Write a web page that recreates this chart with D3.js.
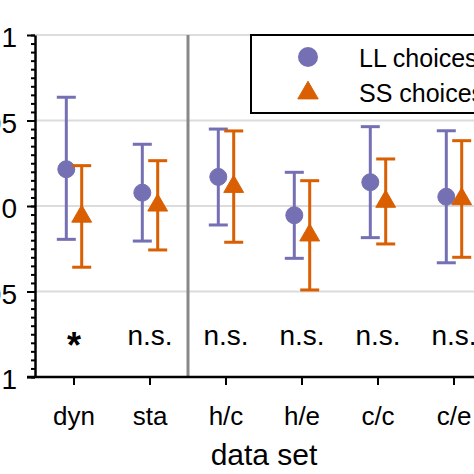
<!DOCTYPE html>
<html>
<head>
<meta charset="utf-8">
<script src="https://cdn.jsdelivr.net/npm/d3@7"></script>
<style>
    body { margin: 0; background: #fff; }
    svg { display: block; font-family: "Liberation Sans", Arial, sans-serif; }
</style>
</head>
<body>
<div id="chart"></div>
<script>
// data sets on the x axis
var dataSets = ["dyn", "sta", "h/c", "h/e", "c/c", "c/e"];

// LL choices: mean with lower / upper bound
var llMean = [0.0215, 0.0078, 0.0170, -0.0054, 0.0139, 0.0054];
var llLow  = [-0.0195, -0.0205, -0.0111, -0.0306, -0.0185, -0.0332];
var llHigh = [0.0636, 0.0361, 0.0450, 0.0197, 0.0464, 0.0440];

// SS choices: mean with lower / upper bound
var ssMean = [-0.0061, 0.0004, 0.0113, -0.0171, 0.0026, 0.0041];
var ssLow  = [-0.0358, -0.0257, -0.0212, -0.0491, -0.0222, -0.0300];
var ssHigh = [0.0236, 0.0265, 0.0439, 0.0148, 0.0275, 0.0382];

// significance labels under each data set
var sigLabels = ["*", "n.s.", "n.s.", "n.s.", "n.s.", "n.s."];

// y tick values and their labels
var yTicks = [-0.1, -0.05, 0, 0.05, 0.1];
var yTickLabels = ["-0.1", "-0.05", "0", "0.05", "0.1"];

var width = 474, height = 474;
var margin = {top: 35, left: 35, bottom: 97};

var purple = "#7570b3", orange = "#d95f02";

var svg = d3.select("#chart")
    .append("svg")
        .attr("width", width)
        .attr("height", height);

// scales
var x = d3.scaleBand()
    .domain(dataSets)
    .range([36, 36 + 76 * dataSets.length]);

var y = d3.scaleLinear()
    .domain([-0.1, 0.1])
    .range([height - margin.bottom, margin.top]);

// gridlines
svg.append("g")
    .selectAll("line")
    .data(yTicks.slice(1))
    .enter()
    .append("line")
        .attr("x1", margin.left)
        .attr("x2", width)
        .attr("y1", d => y(d))
        .attr("y2", d => y(d))
        .attr("stroke", "#dcdcdc")
        .attr("stroke-width", 2);

// separator between dynamic/static and the other data sets
var sepX = (x("sta") + x.bandwidth() / 2 + x("h/c") + x.bandwidth() / 2) / 2;
svg.append("line")
    .attr("x1", sepX)
    .attr("x2", sepX)
    .attr("y1", y(0.1))
    .attr("y2", y(-0.1))
    .attr("stroke", "#888")
    .attr("stroke-width", 3);

// minor y ticks every 0.005
var minor = d3.range(-0.1, 0.1001, 0.005);
svg.append("g")
    .attr("transform", `translate(${margin.left},0)`)
    .call(d3.axisLeft(y).tickValues(minor).tickSize(4).tickFormat(""))
    .call(g => g.select(".domain").remove())
    .call(g => g.selectAll("line").attr("stroke-width", 2));

// major y axis
svg.append("g")
    .attr("transform", `translate(${margin.left},0)`)
    .call(d3.axisLeft(y)
        .tickValues(yTicks)
        .tickSize(8)
        .tickSizeOuter(0)
        .tickPadding(10)
        .tickFormat((d, i) => yTickLabels[i]))
    .call(g => g.select(".domain").attr("stroke-width", 2.5))
    .call(g => g.selectAll("line").attr("stroke-width", 2))
    .call(g => g.selectAll("text")
        .attr("font-size", 28)
        .attr("font-family", "Liberation Sans, Arial, sans-serif")
        .attr("fill", "#000")
        .attr("dy", "0.42em"));

// x axis
svg.append("g")
    .attr("transform", `translate(0,${y(-0.1)})`)
    .call(d3.axisBottom(x).tickSize(8).tickSizeOuter(0).tickPadding(22))
    .call(g => g.select(".domain").attr("stroke-width", 2.5).attr("d", `M${margin.left - 8},0H${width + 20}`))
    .call(g => g.selectAll("line").attr("stroke-width", 2))
    .call(g => g.selectAll("text")
        .attr("font-size", 26)
        .attr("font-family", "Liberation Sans, Arial, sans-serif")
        .attr("fill", "#000"));

// x axis title
svg.append("text")
    .attr("x", 264)
    .attr("y", 465)
    .attr("text-anchor", "middle")
    .attr("font-size", 30)
    .text("data set");

// function to draw one series of error bars and markers
function drawSeries(mean, low, high, color, offset, symbol) {
    var cx = (d, i) => x(dataSets[i]) + x.bandwidth() / 2 + offset;
    var g = svg.append("g");
    var rows = mean.map((m, i) => ({m: m, lo: low[i], hi: high[i], i: i}));

    // vertical bar
    g.selectAll(".bar")
        .data(rows)
        .enter()
        .append("line")
            .attr("x1", d => cx(d, d.i))
            .attr("x2", d => cx(d, d.i))
            .attr("y1", d => y(d.lo))
            .attr("y2", d => y(d.hi))
            .attr("stroke", color)
            .attr("stroke-width", 3);

    // caps
    ["lo", "hi"].forEach(function(k) {
        g.selectAll(".cap" + k)
            .data(rows)
            .enter()
            .append("line")
                .attr("x1", d => cx(d, d.i) - 9.5)
                .attr("x2", d => cx(d, d.i) + 9.5)
                .attr("y1", d => y(d[k]))
                .attr("y2", d => y(d[k]))
                .attr("stroke", color)
                .attr("stroke-width", 3);
    });

    // markers
    g.selectAll(".marker")
        .data(rows)
        .enter()
        .append("path")
            .attr("transform", d => `translate(${cx(d, d.i)},${y(d.m)})`)
            .attr("d", symbol)
            .attr("fill", color)
            .attr("stroke", color)
            .attr("stroke-linejoin", "round")
            .attr("stroke-width", 1);
}

var circleSym = d3.symbol().type(d3.symbolCircle).size(Math.PI * 8.5 * 8.5)();
var triSym = d3.symbol().type(d3.symbolTriangle).size(170)();

drawSeries(llMean, llLow, llHigh, purple, -7.7, circleSym);
drawSeries(ssMean, ssLow, ssHigh, orange, 7.7, triSym);

// significance labels
svg.append("g")
    .selectAll("text")
    .data(sigLabels)
    .enter()
    .append("text")
        .attr("x", (d, i) => x(dataSets[i]) + x.bandwidth() / 2)
        .attr("y", d => d == "*" ? 358 : 345)
        .attr("text-anchor", "middle")
        .attr("font-size", d => d == "*" ? 36 : 28)
        .attr("font-weight", d => d == "*" ? "bold" : "normal")
        .text(d => d);

// legend box in the top right
var legend = svg.append("g");
legend.append("rect")
    .attr("x", 251)
    .attr("y", 35)
    .attr("width", 260)
    .attr("height", 78)
    .attr("fill", "#fff")
    .attr("stroke", "#000")
    .attr("stroke-width", 2);

legend.append("path")
    .attr("transform", "translate(308,57)")
    .attr("d", d3.symbol().type(d3.symbolCircle).size(Math.PI * 10 * 10)())
    .attr("fill", purple);

legend.append("path")
    .attr("transform", "translate(308,93)")
    .attr("d", d3.symbol().type(d3.symbolTriangle).size(180)())
    .attr("fill", orange)
    .attr("stroke", orange)
    .attr("stroke-linejoin", "round");

legend.append("text")
    .attr("x", 359)
    .attr("y", 67)
    .attr("font-size", 25)
    .text("LL choices");

legend.append("text")
    .attr("x", 359)
    .attr("y", 102)
    .attr("font-size", 25)
    .text("SS choices");
</script>
</body>
</html>
